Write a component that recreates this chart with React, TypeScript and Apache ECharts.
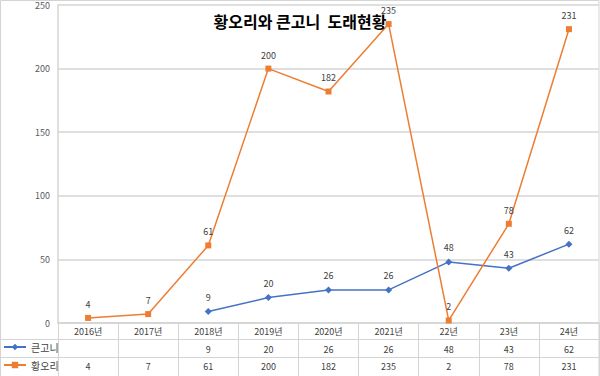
import React, { useEffect, useRef } from "react";
import * as echarts from "echarts";

const categories = ["2016년", "2017년", "2018년", "2019년", "2020년", "2021년", "22년", "23년", "24년"];
const swanValues: (number | null)[] = [null, null, 9, 20, 26, 26, 48, 43, 62];
const duckValues: (number | null)[] = [4, 7, 61, 200, 182, 235, 2, 78, 231];
const swanName = "큰고니";
const duckName = "황오리";
const titleText = "황오리와 큰고니  도래현황";
const yTicks = { min: 0, max: 250, interval: 50 };

const FONT = "'Noto Sans CJK KR', 'Noto Sans', sans-serif";
const GRID_COLOR = "#d4d4d4";

export default function App() {
  const ref = useRef<HTMLDivElement>(null);
  useEffect(() => {
    document.body.style.margin = "0";
    const chart = echarts.init(ref.current!, null, { renderer: "svg" });
    const fmtVal = (v: number | null) => (v === null || v === undefined ? "" : String(v));
    chart.setOption({
      animation: false,
      backgroundColor: "#fff",
      textStyle: { fontFamily: FONT },
      title: {
        text: titleText,
        left: "center",
        top: 8,
        textStyle: { fontFamily: FONT, fontSize: 16, fontWeight: "bold", color: "#000" },
      },
      grid: { left: 58, right: 1, top: 5, bottom: 53, containLabel: false },
      legend: {
        left: 3,
        top: 340,
        bottom: 0,
        padding: 0,
        orient: "vertical",
        itemWidth: 22,
        itemHeight: 8,
        itemGap: 4,
        textStyle: { fontFamily: FONT, fontSize: 10, color: "#404040", lineHeight: 14 },
        data: [swanName, duckName],
      },
      xAxis: {
        type: "category",
        data: categories,
        boundaryGap: true,
        axisLine: { lineStyle: { color: GRID_COLOR, width: 1.5 } },
        axisTick: { show: true, length: 53, lineStyle: { color: GRID_COLOR, width: 1 } },
        axisLabel: {
          margin: 0,
          interval: 0,
          fontFamily: FONT,
          fontSize: 9,
          color: "#404040",
          lineHeight: 17.5,
          formatter: (value: string, idx: number) =>
            `${value}\n${fmtVal(swanValues[idx])}\n${fmtVal(duckValues[idx])}`,
        },
      },
      yAxis: {
        type: "value",
        min: yTicks.min,
        max: yTicks.max,
        interval: yTicks.interval,
        axisLine: { show: true, lineStyle: { color: GRID_COLOR, width: 1.5 } },
        axisTick: { show: false },
        splitLine: { lineStyle: { color: GRID_COLOR, width: 1.5 } },
        axisLabel: { fontFamily: FONT, fontSize: 9, color: "#595959", margin: 8 },
      },
      graphic: [
        {
          type: "rect",
          shape: { x: 0.5, y: 0.5, width: 598.5, height: 380 },
          style: { fill: "none", stroke: GRID_COLOR, lineWidth: 1 },
          silent: true,
        },
        {
          type: "line",
          shape: { x1: 0, y1: 339.5, x2: 600, y2: 339.5 },
          style: { stroke: GRID_COLOR, lineWidth: 1 },
          silent: true,
        },
        {
          type: "line",
          shape: { x1: 0, y1: 357.5, x2: 600, y2: 357.5 },
          style: { stroke: GRID_COLOR, lineWidth: 1 },
          silent: true,
        },
      ],
      series: [
        {
          name: swanName,
          type: "line",
          data: swanValues,
          color: "#4472C4",
          symbol: "diamond",
          symbolSize: 7,
          lineStyle: { width: 1.5, color: "#4472C4" },
          itemStyle: { color: "#4472C4" },
          label: { show: true, position: "top", distance: 6, fontSize: 9, color: "#404040", fontFamily: FONT },
          z: 2,
        },
        {
          name: duckName,
          type: "line",
          data: duckValues,
          color: "#ED7D31",
          symbol: "rect",
          symbolSize: 6,
          lineStyle: { width: 1.5, color: "#ED7D31" },
          itemStyle: { color: "#ED7D31" },
          label: { show: true, position: "top", distance: 6, fontSize: 9, color: "#404040", fontFamily: FONT },
          z: 3,
        },
      ],
    });
    return () => chart.dispose();
  }, []);
  return <div ref={ref} style={{ width: 600, height: 376 }} />;
}
